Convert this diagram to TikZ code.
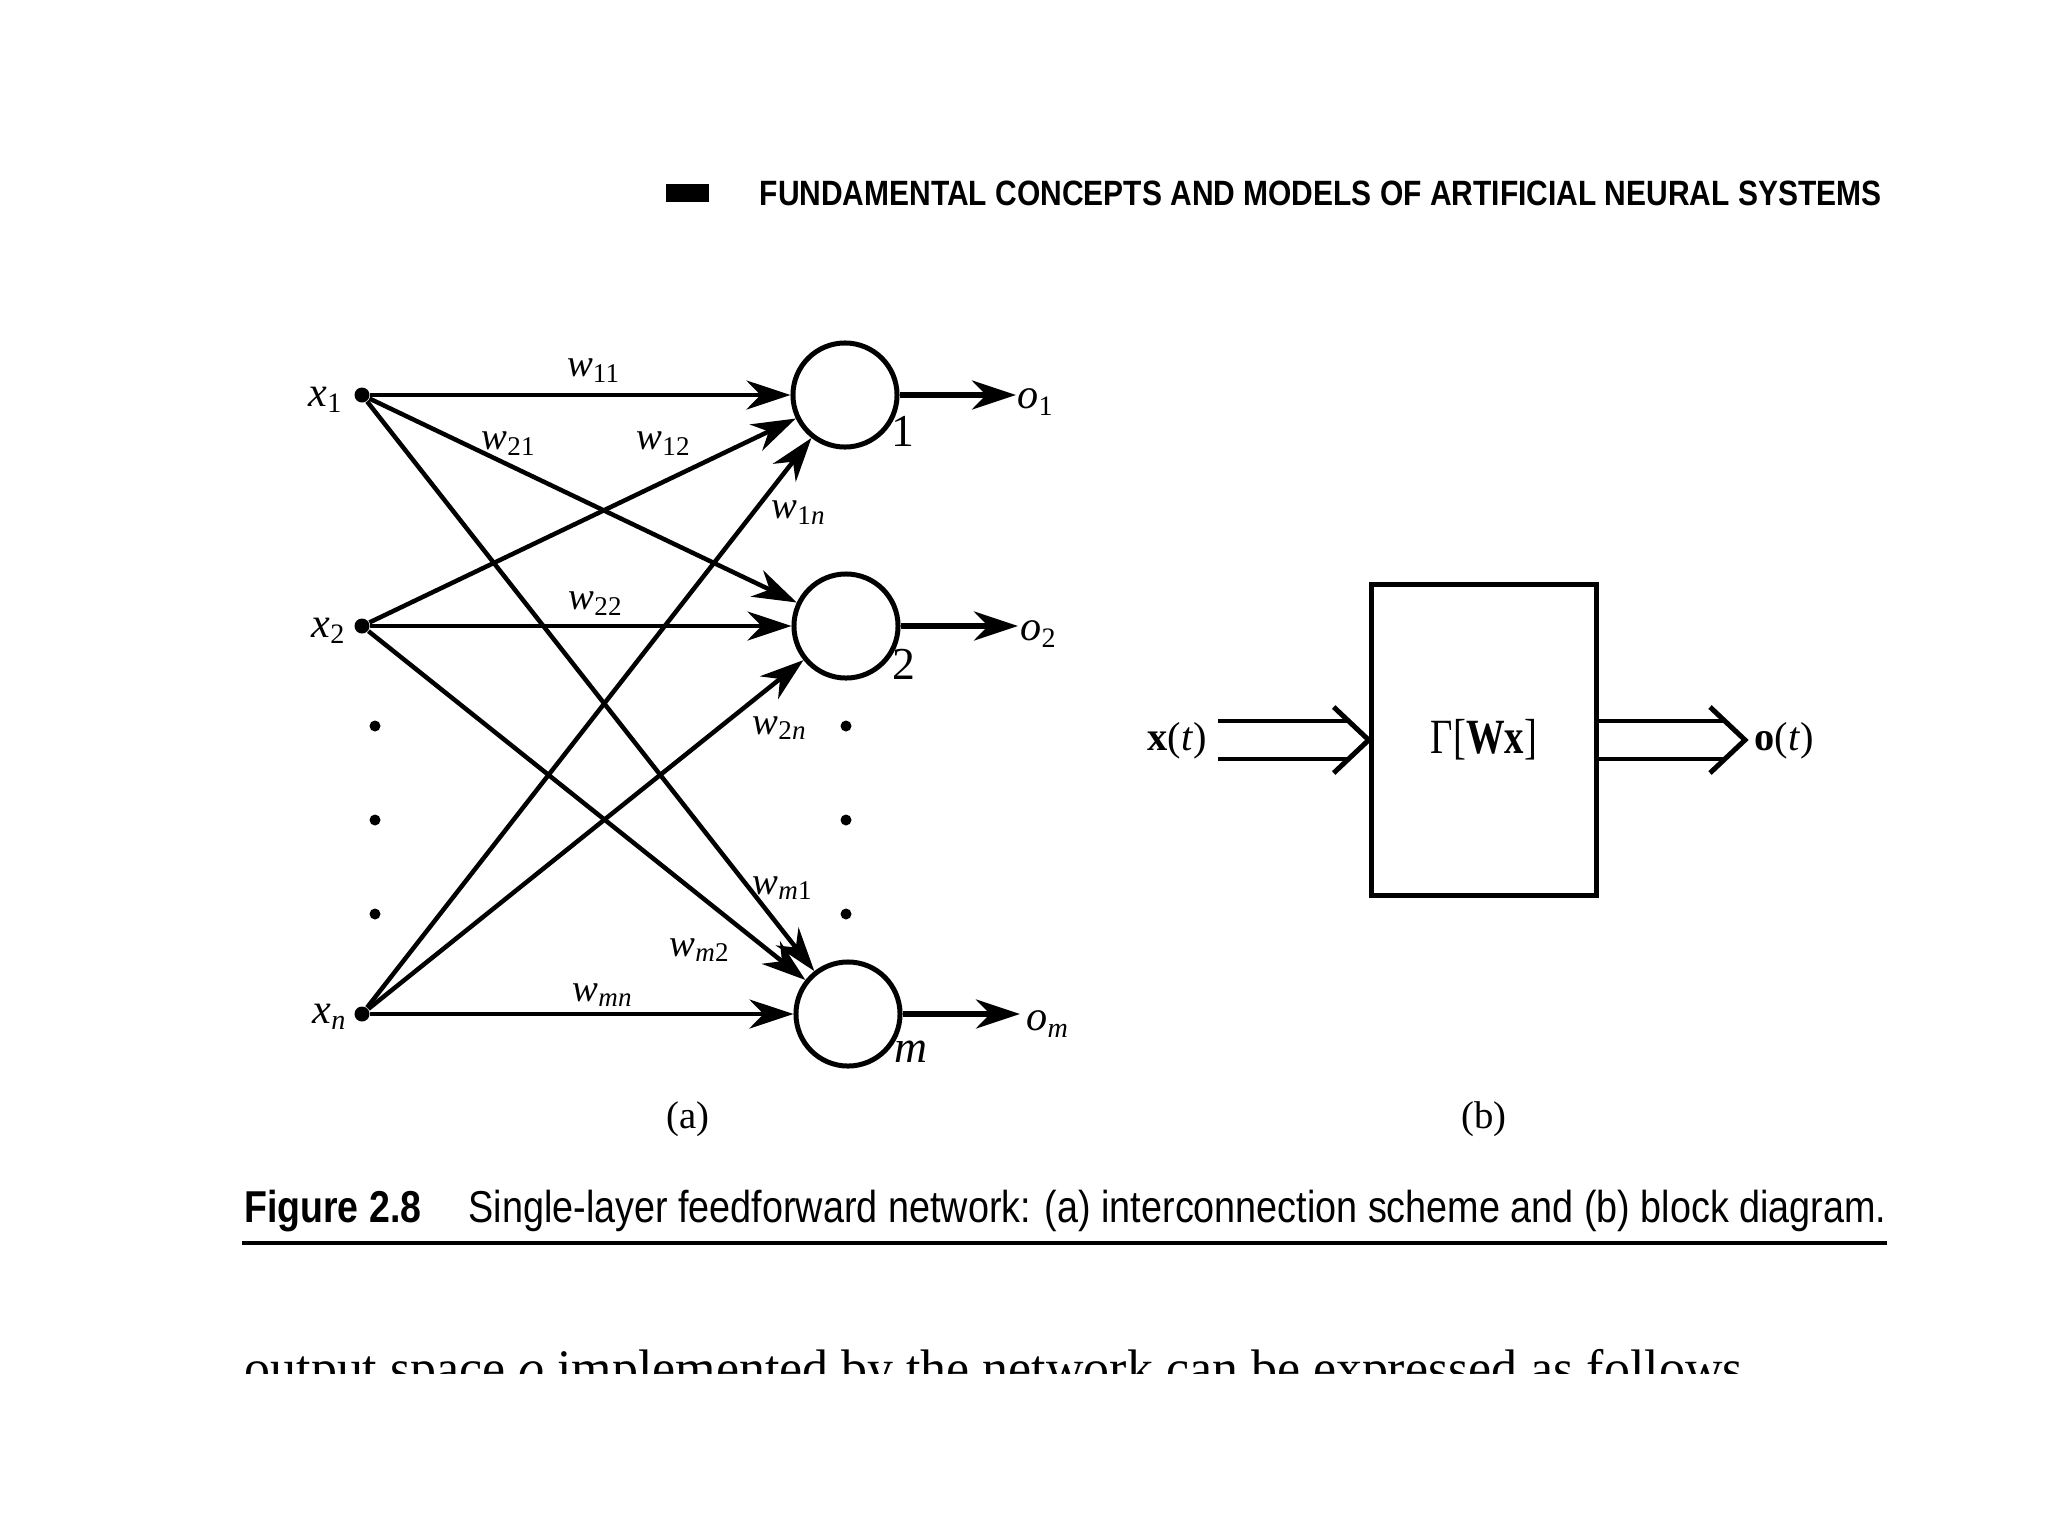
\documentclass[tikz,border=0pt]{standalone}
\usepackage{fontspec}
\setmainfont{Liberation Serif}
\setsansfont{Liberation Sans}
\usetikzlibrary{arrows.meta,calc}
\newcommand\wl[2]{\textit{#1}\textsubscript{#2}}
\begin{document}
\begin{tikzpicture}[x=0.01cm,y=-0.01cm,
  neuron/.style={circle,draw,line width=0.05cm,minimum size=1.04cm,inner sep=0},
  indot/.style={circle,fill,minimum size=0.15cm,inner sep=0},
  vdot/.style={circle,fill,minimum size=0.11cm,inner sep=0},
  conn/.style={line width=0.045cm,-{Stealth[length=0.44cm,width=0.29cm,inset=0.14cm]}},
  outconn/.style={line width=0.055cm,-{Stealth[length=0.44cm,width=0.29cm,inset=0.14cm]}},
  lbl/.style={inner sep=0,font=\fontsize{12pt}{14pt}\selectfont},
  wlab/.style={inner sep=0,font=\fontsize{11pt}{13pt}\selectfont},
  blk/.style={draw,line width=0.05cm,minimum width=2.255cm,minimum height=3.11cm,inner sep=0},
  dbl/.style={line width=0.048cm},
  chev/.style={line width=0.05cm,line join=miter},
  txtcap/.style={inner sep=0,anchor=base west}]
\useasboundingbox (0,0) rectangle (2048,1536);

% header
\fill (666,184) rectangle (709,202);
\node[txtcap] (head) at (759,205) {\resizebox{11.21cm}{\height}{\fontsize{10pt}{12pt}\selectfont\sffamily\bfseries FUNDAMENTAL CONCEPTS AND MODELS OF ARTIFICIAL NEURAL SYSTEMS}};

% (a) network
\node[indot] (x1) at (362,395) {};
\node[indot] (x2) at (362,626) {};
\node[indot] (xn) at (362,1014) {};
\node[neuron] (n1) at (845,395) {};
\node[neuron] (n2) at (846,626) {};
\node[neuron] (nm) at (848,1014) {};
\coordinate (o1t) at (1016,395);
\coordinate (o2t) at (1018,626);
\coordinate (omt) at (1020,1014);

\node[lbl] (lx1) at (326,400) {\wl{x}{1}};
\node[lbl] (lx2) at (329,631) {\wl{x}{2}};
\node[lbl] (lxn) at (330,1017) {\wl{x}{\textit{n}}};

\draw[conn] (x1) -- (n1);
\draw[conn] (x1) -- (n2);
\draw[conn] (x1) -- (nm);
\draw[conn] (x2) -- (n1);
\draw[conn] (x2) -- (n2);
\draw[conn] (x2) -- (nm);
\draw[conn] (xn) -- (n1);
\draw[conn] (xn) -- (n2);
\draw[conn] (xn) -- (nm);

\draw[outconn] (n1) -- (o1t);
\draw[outconn] (n2) -- (o2t);
\draw[outconn] (nm) -- (omt);

\node[lbl] (lo1) at (1036,402) {\wl{o}{1}};
\node[lbl] (lo2) at (1039,634) {\wl{o}{2}};
\node[lbl] (lom) at (1048,1024) {\wl{o}{\textit{m}}};

\node[lbl,font=\fontsize{13pt}{15pt}\selectfont] (ln1) at (903,431) {1};
\node[lbl,font=\fontsize{13pt}{15pt}\selectfont] (ln2) at (904,664) {2};
\node[lbl,font=\fontsize{13pt}{15pt}\selectfont] (lnm) at (911,1052) {\textit{m}};

\node[wlab] (w11) at (594,371) {\wl{w}{11}};
\node[wlab] (w21) at (509,444) {\wl{w}{21}};
\node[wlab] (w12) at (664,444) {\wl{w}{12}};
\node[wlab] (w1n) at (799,513) {\wl{w}{1\textit{n}}};
\node[wlab] (w22) at (596,604) {\wl{w}{22}};
\node[wlab] (w2n) at (780,728) {\wl{w}{2\textit{n}}};
\node[wlab] (wm1) at (783,888) {\wl{w}{\textit{m}1}};
\node[wlab] (wm2) at (700,950) {\wl{w}{\textit{m}2}};
\node[wlab] (wmn) at (603,995) {\wl{w}{\textit{mn}}};

\node[vdot] (ld1) at (375,726) {};
\node[vdot] (ld2) at (375,820) {};
\node[vdot] (ld3) at (375,914) {};
\node[vdot] (rd1) at (846,726) {};
\node[vdot] (rd2) at (846,820) {};
\node[vdot] (rd3) at (846,914) {};

\node[inner sep=0,font=\fontsize{11pt}{13pt}\selectfont] (capa) at (688,1119) {(a)};

% (b) block diagram
\node[blk,font=\fontsize{14pt}{16pt}\selectfont] (box) at (1484,740) {\resizebox{1.06cm}{\height}{Γ[\textbf{Wx}]}};
\coordinate (xin) at (1218,740);
\coordinate (oout) at (1745,740);
\draw[dbl] ($(xin)+(0,-19)$) -- ($(box.west)+(-22,-19)$);
\draw[dbl] ($(xin)+(0,19)$) -- ($(box.west)+(-22,19)$);
\draw[chev] ($(box.west)+(-35,-33)$) -- (box.west) -- ($(box.west)+(-35,33)$);
\draw[dbl] ($(box.east)+(0,-19)$) -- ($(oout)+(-22,-19)$);
\draw[dbl] ($(box.east)+(0,19)$) -- ($(oout)+(-22,19)$);
\draw[chev] ($(oout)+(-35,-33)$) -- (oout) -- ($(oout)+(-35,33)$);
\node[inner sep=0,font=\fontsize{11.5pt}{13pt}\selectfont] (lxt) at (1177,741) {\textbf{x}(\textit{t})};
\node[inner sep=0,font=\fontsize{11.5pt}{13pt}\selectfont] (lot) at (1784,741) {\textbf{o}(\textit{t})};
\node[inner sep=0,font=\fontsize{11pt}{13pt}\selectfont] (capb) at (1484,1119) {(b)};

% caption
\node[txtcap] (fig) at (243.5,1222) {\resizebox{1.77cm}{\height}{\fontsize{12.7pt}{15pt}\selectfont\sffamily\bfseries Figure 2.8}};
\node[txtcap] (figtext) at (468,1222) {\resizebox{14.17cm}{\height}{\fontsize{12.7pt}{15pt}\selectfont\sffamily Single-layer feedforward network: (a) interconnection scheme and (b) block diagram.}};
\draw[line width=0.036cm] (242,1243) -- (1887,1243);

% cut-off body text
\begin{scope}
\clip (0,0) rectangle (2048,1373);
\node[txtcap] (body) at (244,1386) {\resizebox{14.97cm}{\height}{\fontsize{15pt}{17pt}\selectfont output space \textit{o} implemented by the network can be expressed as follows}};
\end{scope}
\end{tikzpicture}
\end{document}
